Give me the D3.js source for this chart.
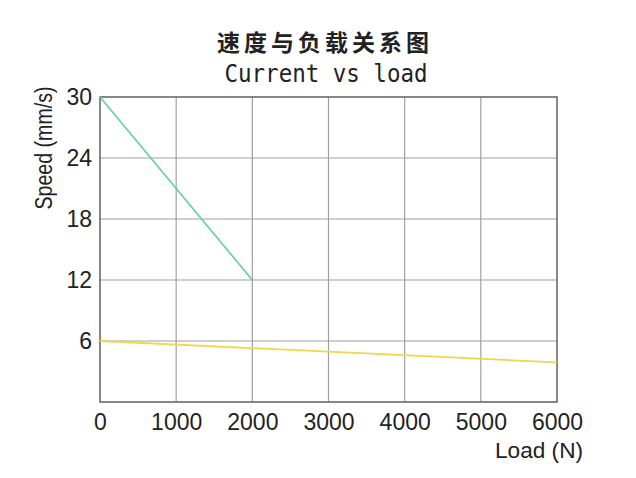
<!DOCTYPE html>
<html><head><meta charset="utf-8">
<script src="https://cdn.jsdelivr.net/npm/d3@7"></script>
<style>html,body{margin:0;padding:0;background:#fff;}</style>
</head><body>
<svg id="chart" width="636" height="478"></svg>
<script>
const title = "速度与负载关系图";
const subtitle = "Current vs load";
const xLabel = "Load (N)";
const yLabel = "Speed (mm/s)";
const xTicks = [0, 1000, 2000, 3000, 4000, 5000, 6000];
const yTicks = [6, 12, 18, 24, 30];
const greenLoad = [0, 2000];
const greenSpeed = [30, 12];
const yellowLoad = [0, 6000];
const yellowSpeed = [6, 3.9];

const svg = d3.select("#chart");
const m = {l: 100, r: 557, t: 97, b: 402};
const x = d3.scaleLinear().domain([0, 6000]).range([m.l, m.r]);
const y = d3.scaleLinear().domain([0, 30]).range([m.b, m.t]);
const tickFont = "'Liberation Sans', Arial, sans-serif";

// grid
svg.append("g").selectAll("line").data(xTicks.slice(1, -1)).join("line")
  .attr("x1", d => x(d)).attr("x2", d => x(d)).attr("y1", m.t).attr("y2", m.b)
  .attr("stroke", "#a0a0a0").attr("stroke-width", 1.2);
svg.append("g").selectAll("line").data(yTicks.slice(0, -1)).join("line")
  .attr("x1", m.l).attr("x2", m.r).attr("y1", d => y(d)).attr("y2", d => y(d))
  .attr("stroke", "#a0a0a0").attr("stroke-width", 1.2);

// frame
svg.append("rect").attr("x", m.l).attr("y", m.t).attr("width", m.r - m.l).attr("height", m.b - m.t)
  .attr("fill", "none").attr("stroke", "#606060").attr("stroke-width", 1.5);

// axes labels
const xAxis = d3.axisBottom(x).tickValues(xTicks).tickFormat(d3.format("d")).tickSize(0).tickPadding(10);
const gx = svg.append("g").attr("transform", `translate(0,${m.b})`).call(xAxis)
  .attr("font-family", tickFont).attr("font-size", 23);
gx.select(".domain").remove();
gx.selectAll("text").attr("fill", "#222").attr("dy", "0.71em").attr("y", 12);

const yAxis = d3.axisLeft(y).tickValues(yTicks).tickFormat(d3.format("d")).tickSize(0).tickPadding(8);
const gy = svg.append("g").attr("transform", `translate(${m.l},0)`).call(yAxis)
  .attr("font-family", tickFont).attr("font-size", 23);
gy.select(".domain").remove();
gy.selectAll("text").attr("fill", "#222").attr("dy", "0.32em");

// lines
const line = d3.line().x(d => x(d[0])).y(d => y(d[1]));
svg.append("path").datum(greenLoad.map((v, i) => [v, greenSpeed[i]]))
  .attr("d", line).attr("fill", "none").attr("stroke", "#5ed494").attr("stroke-width", 1.6);
svg.append("path").datum(yellowLoad.map((v, i) => [v, yellowSpeed[i]]))
  .attr("d", line).attr("fill", "none").attr("stroke", "#f3d54a").attr("stroke-width", 1.8);

// titles
svg.append("text").attr("x", 323).attr("y", 51).attr("text-anchor", "middle")
  .attr("font-family", "'Noto Sans CJK SC', sans-serif").attr("font-size", 23).attr("font-weight", "bold")
  .attr("fill", "#222").attr("textLength", 212).attr("lengthAdjust", "spacing").text(title);
svg.append("text").attr("x", 326).attr("y", 82).attr("text-anchor", "middle")
  .attr("font-family", "'DejaVu Sans Mono', monospace").attr("font-size", 25)
  .attr("fill", "#222").attr("textLength", 203).attr("lengthAdjust", "spacingAndGlyphs").text(subtitle);

svg.append("text").attr("x", 583).attr("y", 458).attr("text-anchor", "end")
  .attr("font-family", "'Liberation Sans', Arial, sans-serif").attr("font-size", 22).attr("fill", "#222")
  .attr("textLength", 88).attr("lengthAdjust", "spacingAndGlyphs").text(xLabel);
svg.append("text").attr("transform", "translate(52,148) rotate(-90)").attr("text-anchor", "middle")
  .attr("font-family", "'Liberation Sans', Arial, sans-serif").attr("font-size", 23).attr("fill", "#222")
  .attr("textLength", 123).attr("lengthAdjust", "spacingAndGlyphs").text(yLabel);
</script>
</body></html>
